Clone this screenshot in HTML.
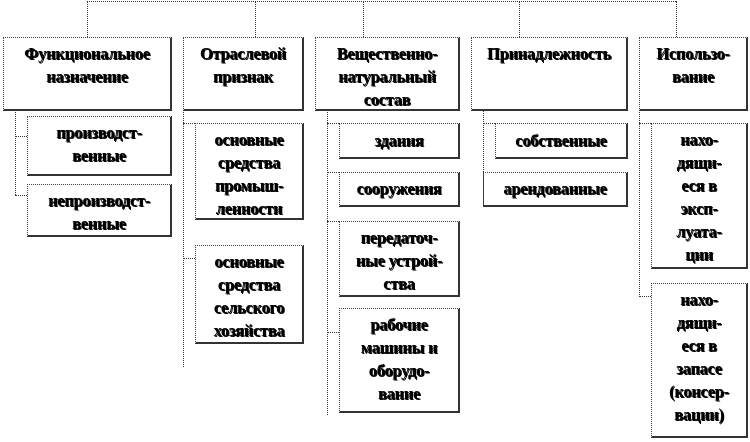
<!DOCTYPE html>
<html><head><meta charset="utf-8"><style>
body{margin:0;width:750px;height:442px;background:#fff;position:relative;overflow:hidden;font-family:"Liberation Serif","Times New Roman",serif;}
.b{position:absolute;box-sizing:border-box;border:1px dotted #444;border-right:2px solid #333;border-bottom:2px solid #333;text-align:center;font-weight:bold;font-size:16.5px;line-height:23px;padding-top:4px;color:#000;text-shadow:1px 1px 0 #000;letter-spacing:-0.3px;white-space:nowrap;}
.h{position:absolute;border-top:1px dotted #333;height:0}
.v{position:absolute;border-left:1px dotted #333;width:0}
</style></head><body>
<div class="h" style="left:87px;top:1px;width:589px"></div>
<div class="v" style="left:87px;top:1px;height:36px"></div>
<div class="v" style="left:255px;top:1px;height:36px"></div>
<div class="v" style="left:363px;top:1px;height:36px"></div>
<div class="v" style="left:519px;top:1px;height:36px"></div>
<div class="v" style="left:676px;top:1px;height:36px"></div>

<div class="b" style="left:3px;top:37px;width:169px;height:74px">Функциональное<br>назначение</div>
<div class="b" style="left:183px;top:37px;width:121px;height:74px">Отраслевой<br>признак</div>
<div class="b" style="left:315px;top:37px;width:145px;height:74px">Вещественно-<br>натуральный<br>состав</div>
<div class="b" style="left:471px;top:37px;width:157px;height:74px">Принадлежность</div>
<div class="b" style="left:639px;top:37px;width:109px;height:74px">Использо-<br>вание</div>

<div class="v" style="left:15px;top:110px;height:85px"></div>
<div class="h" style="left:15px;top:136px;width:12px"></div>
<div class="h" style="left:15px;top:195px;width:12px"></div>
<div class="b" style="left:27px;top:116px;width:145px;height:60px">производст-<br>венные</div>
<div class="b" style="left:27px;top:184px;width:145px;height:53px">непроизводст-<br>венные</div>

<div class="v" style="left:183px;top:110px;height:257px"></div>
<div class="h" style="left:183px;top:123px;width:12px"></div>
<div class="h" style="left:183px;top:258px;width:12px"></div>
<div class="b" style="left:195px;top:123px;width:109px;height:97px">основные<br>средства<br>промыш-<br>ленности</div>
<div class="b" style="left:195px;top:245px;width:109px;height:99px">основные<br>средства<br>сельского<br>хозяйства</div>

<div class="v" style="left:327px;top:110px;height:305px"></div>
<div class="h" style="left:327px;top:123px;width:12px"></div>
<div class="h" style="left:327px;top:172px;width:12px"></div>
<div class="h" style="left:327px;top:221px;width:12px"></div>
<div class="h" style="left:327px;top:332px;width:12px"></div>
<div class="b" style="left:339px;top:123px;width:121px;height:36px;padding-top:5px">здания</div>
<div class="b" style="left:339px;top:172px;width:121px;height:35px;padding-top:4px">сооружения</div>
<div class="b" style="left:339px;top:221px;width:121px;height:76px">передаточ-<br>ные устрой-<br>ства</div>
<div class="b" style="left:339px;top:308px;width:121px;height:105px">рабочие<br>машины и<br>оборудо-<br>вание</div>

<div class="v" style="left:483px;top:110px;height:96px"></div>
<div class="h" style="left:483px;top:123px;width:12px"></div>
<div class="b" style="left:495px;top:123px;width:133px;height:36px;padding-top:5px">собственные</div>
<div class="b" style="left:483px;top:172px;width:145px;height:35px;padding-top:4px">арендованные</div>

<div class="v" style="left:639px;top:110px;height:187px"></div>
<div class="h" style="left:639px;top:123px;width:12px"></div>
<div class="h" style="left:639px;top:296px;width:12px"></div>
<div class="b" style="left:651px;top:123px;width:97px;height:146px">нахо-<br>дящи-<br>еся в<br>эксп-<br>луата-<br>ции</div>
<div class="b" style="left:651px;top:283px;width:97px;height:155px">нахо-<br>дящи-<br>еся в<br>запасе<br>(консер-<br>вации)</div>
</body></html>
